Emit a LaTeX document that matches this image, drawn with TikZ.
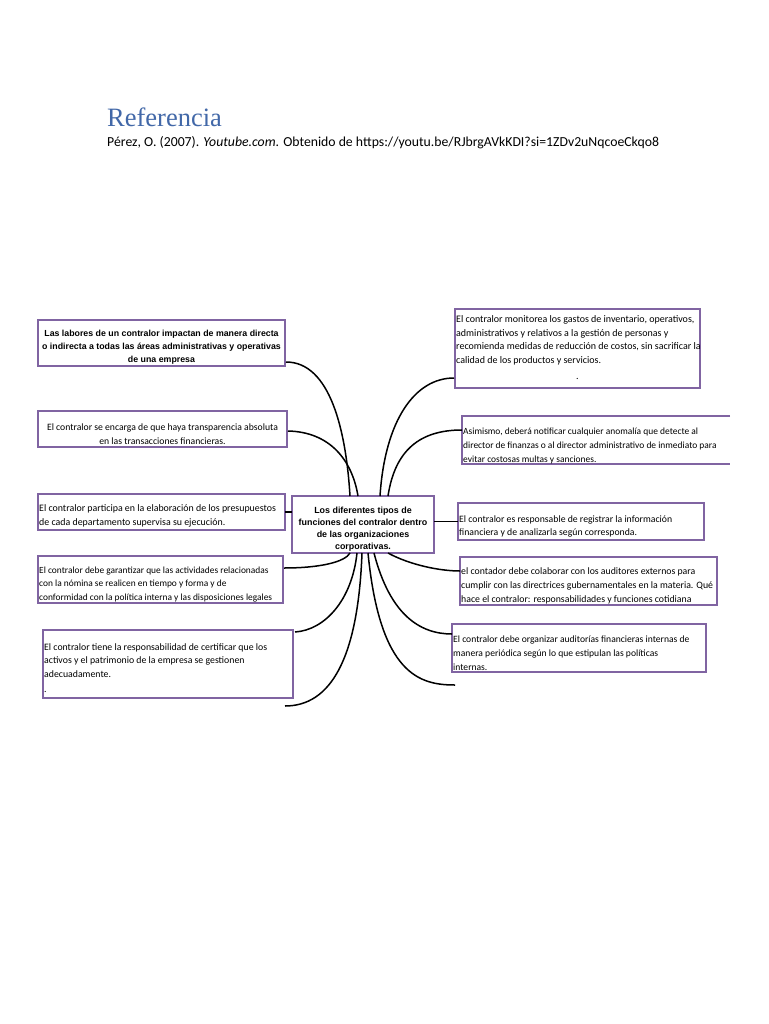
\documentclass[tikz,border=0pt]{standalone}
\usepackage{fontspec}
\setmainfont{Carlito}
\newfontfamily\arialf{Liberation Sans}
\newfontfamily\headserif{Liberation Serif}
\usetikzlibrary{calc}
\definecolor{boxpurple}{RGB}{128,100,162}
\definecolor{headblue}{RGB}{66,104,168}
\newcommand{\fs}[1]{\fontsize{#1}{13.8}\selectfont}
\tikzset{
  bx/.style={draw=boxpurple, line width=1.4pt, fill=white, anchor=north west, inner sep=0pt, outer sep=0pt},
  txt/.style={anchor=west, inner sep=1pt, align=left},
  ctxt/.style={inner sep=1pt, align=center, font=\arialf\bfseries\fontsize{8.8}{12.8}\selectfont},
  conn/.style={draw=black, line width=1.5pt}
}
\begin{document}
\begin{tikzpicture}[x=1pt,y=-1pt]
\useasboundingbox[fill=white] (0,0) rectangle (768,1024);
% header
\node[anchor=base west, inner sep=0pt, text=headblue, font=\headserif\fontsize{26.5}{30}\selectfont] (ref) at (107,127) {Referencia};
\node[anchor=base west, inner sep=0pt, font=\fontsize{13.75}{16}\selectfont] (cite) at (107,147) {Pérez, O. (2007). \textit{Youtube.com}. Obtenido de https://youtu.be/RJbrgAVkKDI?si=1ZDv2uNqcoeCkqo8};

\coordinate (ct1) at (350,496);
\coordinate (ct2) at (358,496);
\coordinate (ct3) at (380,496);
\coordinate (ct4) at (388,496);
\coordinate (cb1) at (350,553);
\coordinate (cb2) at (357,553);
\coordinate (cb3) at (362,553);
\coordinate (cb4) at (368,553);
\coordinate (cb5) at (374,553);
\coordinate (cb6) at (388,553);
\coordinate (e6) at (285,706);
\coordinate (e12) at (455,685);

% left boxes
\node[bx, minimum width=247pt, minimum height=46pt] (l1) at (38,320) {};
\node[ctxt] (l1t) at ($(l1.center)+(0,4)$) {Las labores de un contralor impactan de manera directa\\ o indirecta a todas las áreas administrativas y operativas\\ de una empresa};

\node[bx, minimum width=249pt, minimum height=36pt] (l2) at (38,411) {};
\node[txt, anchor=center, align=center, font=\fs{9.7}] (l2t) at ($(l2.center)+(0,5)$) {El contralor se encarga de que haya transparencia absoluta\\ en las transacciones financieras.};

\node[bx, minimum width=247pt, minimum height=36pt] (l3) at (38,494) {};
\node[txt, font=\fs{9.9}] (l3t) at ($(l3.west)+(0,4)$) {El contralor participa en la elaboración de los presupuestos\\ de cada departamento supervisa su ejecución.};

\node[bx, minimum width=245pt, minimum height=47pt] (l4) at (38,556) {};
\node[txt, font=\fs{9.4}] (l4t) at ($(l4.west)+(0,5)$) {El contralor debe garantizar que las actividades relacionadas\\ con la nómina se realicen en tiempo y forma y de\\ conformidad con la política interna y las disposiciones legales};

\node[bx, minimum width=250pt, minimum height=68pt] (l5) at (43,630) {};
\node[txt, font=\fs{9.8}] (l5t) at ($(l5.west)+(0,4)$) {El contralor tiene la responsabilidad de certificar que los\\ activos y el patrimonio de la empresa se gestionen\\ adecuadamente.\\[1pt] .};

% center
\node[bx, minimum width=142pt, minimum height=57pt] (c) at (292,496) {};
\node[ctxt, font=\arialf\bfseries\fontsize{8.9}{12}\selectfont] (ct) at ($(c.center)+(0,4.5)$) {Los diferentes tipos de\\ funciones del contralor dentro\\ de las organizaciones\\ corporativas.};

% right boxes
\node[bx, minimum width=245pt, minimum height=79pt] (r1) at (455,309) {};
\node[txt, font=\fs{10}] (r1t) at ($(r1.west)+(0,-1)$) {El contralor monitorea los gastos de inventario, operativos,\\ administrativos y relativos a la gestión de personas y\\ recomienda medidas de reducción de costos, sin sacrificar la\\ calidad de los productos y servicios.\\[2pt] \hspace*{120pt}.};

\node[inner sep=0pt, outer sep=0pt, minimum width=268pt, minimum height=48pt, anchor=north west] (r2) at (462,416) {};
\draw[draw=boxpurple, line width=1.4pt] (r2.north east) -- (r2.north west) -- (r2.south west) -- (r2.south east);
\node[txt, font=\fs{9.45}] (r2t) at ($(r2.west)+(0,6)$) {Asimismo, deberá notificar cualquier anomalía que detecte al\\ director de finanzas o al director administrativo de inmediato para\\ evitar costosas multas y sanciones.};

\node[bx, minimum width=246pt, minimum height=37pt] (r3) at (458,503) {};
\node[txt, font=\fs{9.75}] (r3t) at ($(r3.west)+(0,5)$) {El contralor es responsable de registrar la información\\ financiera y de analizarla según corresponda.};

\node[bx, minimum width=257pt, minimum height=48pt] (r4) at (460,557) {};
\node[txt, font=\fs{9.8}] (r4t) at ($(r4.west)+(0,5)$) {el contador debe colaborar con los auditores externos para\\ cumplir con las directrices gubernamentales en la materia. Qué\\ hace el contralor: responsabilidades y funciones cotidiana};

\node[bx, minimum width=254pt, minimum height=48pt] (r5) at (452,624) {};
\node[txt, font=\fs{9.6}] (r5t) at ($(r5.west)+(0,5)$) {El contralor debe organizar auditorías financieras internas de\\ manera periódica según lo que estipulan las políticas\\ internas.};

% connectors
\draw[conn] (ct1) .. controls (346,430) and (330,362) .. ($(l1.south east)+(1,-4)$);
\draw[conn] (ct2) .. controls (352,460) and (330,432) .. ($(l2.east)+(1,2)$);
\draw[conn] (l3.east) -- (c.west |- l3.east);
\draw[conn] (cb1) .. controls (345,562) and (320,568) .. ($(l4.north east)+(1,12)$);
\draw[conn] (cb2) .. controls (352,600) and (325,630) .. ($(l5.north east)+(2,2)$);
\draw[conn] (cb3) .. controls (358,660) and (330,706) .. (e6);
\draw[conn] (ct3) .. controls (385,420) and (415,378) .. ($(r1.south west)+(-1,-10)$);
\draw[conn] (ct4) .. controls (395,450) and (420,430) .. ($(r2.west)+(0,-10)$);
\draw[conn] (c.east |- r3.west) -- (r3.west);
\draw[conn] (cb6) .. controls (410,565) and (440,571) .. ($(r4.west)+(0,-10)$);
\draw[conn] (cb5) .. controls (390,615) and (420,634) .. ($(r5.north west)+(0,10)$);
\draw[conn] (cb4) .. controls (380,675) and (420,685) .. (e12);
\end{tikzpicture}
\end{document}
